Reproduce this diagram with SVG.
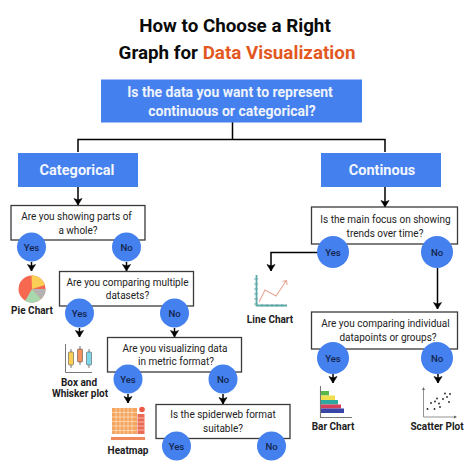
<svg xmlns="http://www.w3.org/2000/svg" width="474" height="474" viewBox="0 0 474 474">
<defs>
<marker id="arr" markerUnits="userSpaceOnUse" markerWidth="10" markerHeight="10" refX="8" refY="5" orient="auto"><path d="M1.500 1 L8 5 L1.500 9 L3 5 Z" fill="#000" stroke="#000" stroke-width="0.6"/></marker>
</defs>
<style>
text{font-family:Roboto,"Liberation Sans",sans-serif;text-anchor:middle}
.title{font-size:18.800px;font-weight:700;fill:#0b0b0b}
.head{font-size:14.500px;font-weight:700;fill:#f2f6fe}
.big{font-size:14px;font-weight:700;fill:#eef3fd}
.q{font-size:10px;fill:#222;font-weight:400}
.a{font-size:9.600px;fill:#14264f;font-weight:500}
.lbl{font-size:10px;fill:#1c1c1c;font-weight:700}
.box{fill:#fff;stroke:#3a3a3a;stroke-width:1.3}
.blue{fill:#4480ee}
.c{fill:none;stroke:#000;stroke-width:1.5}
.ca{fill:none;stroke:#000;stroke-width:1.5;marker-end:url(#arr)}
</style>
<rect width="474" height="474" fill="#fff"/>
<g id="title">
<text class="title" x="235" y="32">How to Choose a Right</text>
<text class="title" x="237" y="58.500">Graph for <tspan fill="#e2581f">Data Visualization</tspan></text>
</g>
<g id="connectors">
<path class="c" d="M232.500 122V139.500M78 152V139.500H385V152"/>
<path class="ca" d="M78 187V205"/>
<path class="ca" d="M385 187V207"/>
<path class="ca" d="M31.500 262V271"/>
<path class="ca" d="M126.500 262V271"/>
<path class="ca" d="M79.500 328V337"/>
<path class="ca" d="M174.500 328V337"/>
<path class="ca" d="M128 394V403"/>
<path class="ca" d="M223 394V404"/>
<path class="ca" d="M320 252.500H271V271"/>
<path class="ca" d="M437.500 268V309"/>
<path class="ca" d="M333 374V383"/>
<path class="ca" d="M438 374V383"/>
</g>
<g id="n-root"><rect class="blue" x="101" y="79.500" width="261" height="43"/>
<text class="big" x="230" y="96.500">Is the data you want to represent</text><text class="big" x="232" y="115.500">continuous or categorical?</text></g>
<g id="n-categorical"><rect class="blue" x="18" y="153" width="120" height="34"/><text class="head" x="77" y="175">Categorical</text></g>
<g id="n-continous"><rect class="blue" x="321" y="153" width="120" height="34"/><text class="head" x="382" y="175">Continous</text></g>

<g id="n-q1"><rect class="box" x="11" y="205.500" width="134" height="34.500"/><text class="q" x="76.500" y="220">Are you showing parts of</text><text class="q" x="78" y="233.500">a whole?</text></g>
<g id="n-q1-yes"><circle class="blue" cx="31.500" cy="247" r="14.500"/><text class="a" x="31.500" y="250.500">Yes</text></g>
<g id="n-q1-no"><circle class="blue" cx="126.500" cy="247" r="14.500"/><text class="a" x="126.500" y="250.500">No</text></g>

<g id="n-q2"><rect class="box" x="59.500" y="271.500" width="134" height="34.500"/><text class="q" x="127.500" y="285.500">Are you comparing multiple</text><text class="q" x="127.500" y="299">datasets?</text></g>
<g id="n-q2-yes"><circle class="blue" cx="79.500" cy="313" r="14.500"/><text class="a" x="79.500" y="316.500">Yes</text></g>
<g id="n-q2-no"><circle class="blue" cx="174.500" cy="313" r="14.500"/><text class="a" x="174.500" y="316.500">No</text></g>

<g id="n-q3"><rect class="box" x="107.500" y="337.500" width="134" height="34.500"/><text class="q" x="175" y="351.500">Are you visualizing data</text><text class="q" x="176" y="365">in metric format?</text></g>
<g id="n-q3-yes"><circle class="blue" cx="128" cy="379" r="14.500"/><text class="a" x="128" y="382.500">Yes</text></g>
<g id="n-q3-no"><circle class="blue" cx="223" cy="379" r="14.500"/><text class="a" x="223" y="382.500">No</text></g>

<g id="n-q4"><rect class="box" x="156" y="404.500" width="134" height="34"/><text class="q" x="223" y="418">Is the spiderweb format</text><text class="q" x="223" y="432">suitable?</text></g>
<g id="n-q4-yes"><circle class="blue" cx="176.500" cy="446" r="14.500"/><text class="a" x="176.500" y="449.500">Yes</text></g>
<g id="n-q4-no"><circle class="blue" cx="271.500" cy="446" r="14.500"/><text class="a" x="271.500" y="449.500">No</text></g>

<g id="n-q5"><rect class="box" x="311.500" y="207" width="146" height="37"/><text class="q" x="385.500" y="223">Is the main focus on showing</text><text class="q" x="385" y="236.500">trends over time?</text></g>
<g id="n-q5-yes"><circle class="blue" cx="333" cy="252" r="16"/><text class="a" x="333" y="255.500">Yes</text></g>
<g id="n-q5-no"><circle class="blue" cx="437" cy="252" r="16"/><text class="a" x="437" y="255.500">No</text></g>

<g id="n-q6"><rect class="box" x="311.500" y="312" width="146" height="37"/><text class="q" x="385.500" y="327">Are you comparing individual</text><text class="q" x="388" y="341">datapoints or groups?</text></g>
<g id="n-q6-yes"><circle class="blue" cx="333" cy="358" r="16"/><text class="a" x="333" y="361.500">Yes</text></g>
<g id="n-q6-no"><circle class="blue" cx="437" cy="358" r="16"/><text class="a" x="437" y="361.500">No</text></g>

<g id="n-pie">
<circle cx="32" cy="289" r="13.500" fill="#f6684f"/>
<path d="M32 289L31.500 275.500A13.500 13.500 0 0 1 45 285Z" fill="#fbcf55"/>
<path d="M32 289H45.500A13.500 13.500 0 0 1 41 299Z" fill="#b3b3b3"/>
<path d="M32 289L41 299A13.500 13.500 0 0 1 25 301Z" fill="#a8d8ae"/>
<text class="lbl" x="32" y="314">Pie Chart</text></g>

<g id="n-box">
<path d="M65.500 344V372.500H92" fill="none" stroke="#555" stroke-width="0.8"/>
<g stroke="#555" stroke-width="0.8"><path d="M71 349V368M80 346V365M89 349V368"/></g>
<rect x="68.500" y="352" width="5" height="13" rx="1" fill="#fbcf55" stroke="#555" stroke-width="0.6"/>
<rect x="77.500" y="349" width="5" height="13" rx="1" fill="#f3925c" stroke="#555" stroke-width="0.6"/>
<rect x="86.500" y="352" width="5" height="13" rx="1" fill="#7fd8ea" stroke="#555" stroke-width="0.6"/>
<text class="lbl" x="79" y="386">Box and</text><text class="lbl" x="80" y="396.500">Whisker plot</text></g>

<g id="n-heatmap">
<rect x="112" y="408" width="25" height="26" fill="#f3a55f"/>
<path d="M112 412.500H137M112 417H137M112 421.500H137M112 426H137M112 430.500H137M116 408V434M120 408V434M124 408V434M128 408V434M132 408V434" stroke="#fde3c6" stroke-width="0.7"/>
<rect x="137.500" y="414" width="7" height="20" fill="#ea6a55"/>
<path d="M137.500 418H144.500M137.500 422H144.500M137.500 426H144.500M137.500 430H144.500" stroke="#fad5c8" stroke-width="0.7"/>
<circle cx="142" cy="409.500" r="2.800" fill="#ea5a48"/>
<rect x="111" y="437" width="34" height="3" fill="#f08a5d"/>
<text class="lbl" x="128" y="453.500">Heatmap</text></g>

<g id="n-line">
<path d="M256.500 275V305.500H287" fill="none" stroke="#5fa8a8" stroke-width="1.800"/>
<path d="M258 279H254M258 284H254M258 289H254M258 294H254M258 299H254M258 304H254M262 307V304M267 307V304M272 307V304M277 307V304M282 307V304" stroke="#5fa8a8" stroke-width="0.9"/>
<path d="M259 302L265 290L276 296L286 281M282.500 281.500L286.500 280.500L287 285" fill="none" stroke="#e8a898" stroke-width="1.100"/>
<text class="lbl" x="270" y="322.500">Line Chart</text></g>

<g id="n-bar">
<path d="M320.500 386V417.500H352" fill="none" stroke="#777" stroke-width="1.100"/>
<rect x="321" y="391" width="8" height="4.500" fill="#5bb84a"/>
<rect x="321" y="395.500" width="14" height="4.500" fill="#f0e050"/>
<rect x="321" y="400" width="17" height="4.500" fill="#2fa8a0"/>
<rect x="321" y="404.500" width="20" height="4" fill="#d8405a"/>
<rect x="321" y="408.500" width="23" height="4.500" fill="#3a45a8"/>
<text class="lbl" x="333" y="430">Bar Chart</text></g>

<g id="n-scatter">
<path d="M423.500 388V417H456" fill="none" stroke="#666" stroke-width="0.7"/>
<path d="M422 390L423.500 387L425 390ZM454 415.500L457 417L454 418.500Z" fill="#666"/>
<g fill="#222"><circle cx="427.500" cy="409" r="0.900"/><circle cx="434.500" cy="409" r="0.900"/><circle cx="440" cy="407" r="0.900"/><circle cx="431" cy="403" r="0.900"/><circle cx="435" cy="401.500" r="0.900"/><circle cx="439" cy="403.500" r="0.900"/><circle cx="437" cy="398.500" r="0.900"/><circle cx="443" cy="399" r="0.900"/><circle cx="447" cy="397" r="0.900"/><circle cx="449" cy="402" r="0.900"/><circle cx="445" cy="393.500" r="0.900"/><circle cx="450" cy="394" r="0.900"/></g>
<text class="lbl" x="437" y="430">Scatter Plot</text></g>
</svg>
